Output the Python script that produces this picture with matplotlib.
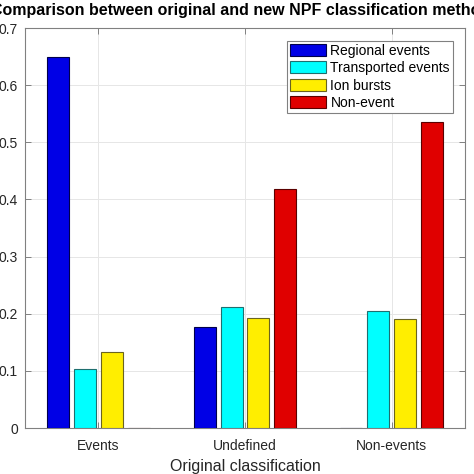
import matplotlib
matplotlib.use("Agg")
import matplotlib.pyplot as plt
import numpy as np

categories = ["Events", "Undefined", "Non-events"]
series_names = ["Regional events", "Transported events", "Ion bursts", "Non-event"]
regional = [0.650, 0.177, 0.0]
transported = [0.103, 0.212, 0.205]
ion_bursts = [0.133, 0.192, 0.191]
non_event = [0.0, 0.419, 0.536]
colors = ["#0000e6", "#00ffff", "#ffee00", "#e00000"]
edges = ["#00004a", "#1f6f6f", "#6a6420", "#5a0000"]
yticks = [0, 0.1, 0.2, 0.3, 0.4, 0.5, 0.6, 0.7]
ytick_labels = ["0", "0.1", "0.2", "0.3", "0.4", "0.5", "0.6", "0.7"]

plt.rcParams['font.family'] = ['Liberation Sans', 'DejaVu Sans']

fig = plt.figure(figsize=(4.74, 4.74), dpi=100)
W, H = 474, 474
ax = fig.add_axes([25 / W, (H - 428) / H, (465 - 25) / W, (428 - 28) / H])

x = np.arange(1, len(categories) + 1)
spacing = 0.183
width = 0.15
data = [regional, transported, ion_bursts, non_event]
for i, (vals, c, ec, name) in enumerate(zip(data, colors, edges, series_names)):
    ax.bar(x + (i - 1.5) * spacing, vals, width=width, color=c, edgecolor=ec,
           linewidth=0.8, label=name, zorder=3)

ax.set_xlim(0.5, 3.5)
ax.set_ylim(0, 0.7)
ax.set_xticks(x)
ax.set_xticklabels(categories)
ax.set_yticks(yticks)
ax.set_yticklabels(ytick_labels)
ax.tick_params(direction='in', top=True, right=True, length=4, width=0.6,
               color='#707070', labelsize=10, labelcolor='#262626')
ax.tick_params(axis='y', pad=5)
ax.tick_params(axis='x', pad=8)
for s in ax.spines.values():
    s.set_color('#808080')
    s.set_linewidth(0.8)
ax.grid(True, color='#e6e6e6', linewidth=0.7, zorder=0)
ax.set_axisbelow(True)

ax.set_xlabel("Original classification", fontsize=11.5, color='#262626', labelpad=4)
ax.set_title("Comparison between original and new NPF classification methods",
             fontsize=11.5, fontweight='bold', color='black', pad=9)

leg = ax.legend(loc='upper right', bbox_to_anchor=(453 / W, (H - 40.7) / H),
                bbox_transform=fig.transFigure, fontsize=10, frameon=True,
                fancybox=False, edgecolor='#808080', framealpha=1,
                handlelength=2.6, handleheight=0.95, handletextpad=0.3,
                labelspacing=0.25, borderpad=0.22, borderaxespad=0)
leg.get_frame().set_linewidth(0.8)

fig.savefig("out.png", dpi=100)
